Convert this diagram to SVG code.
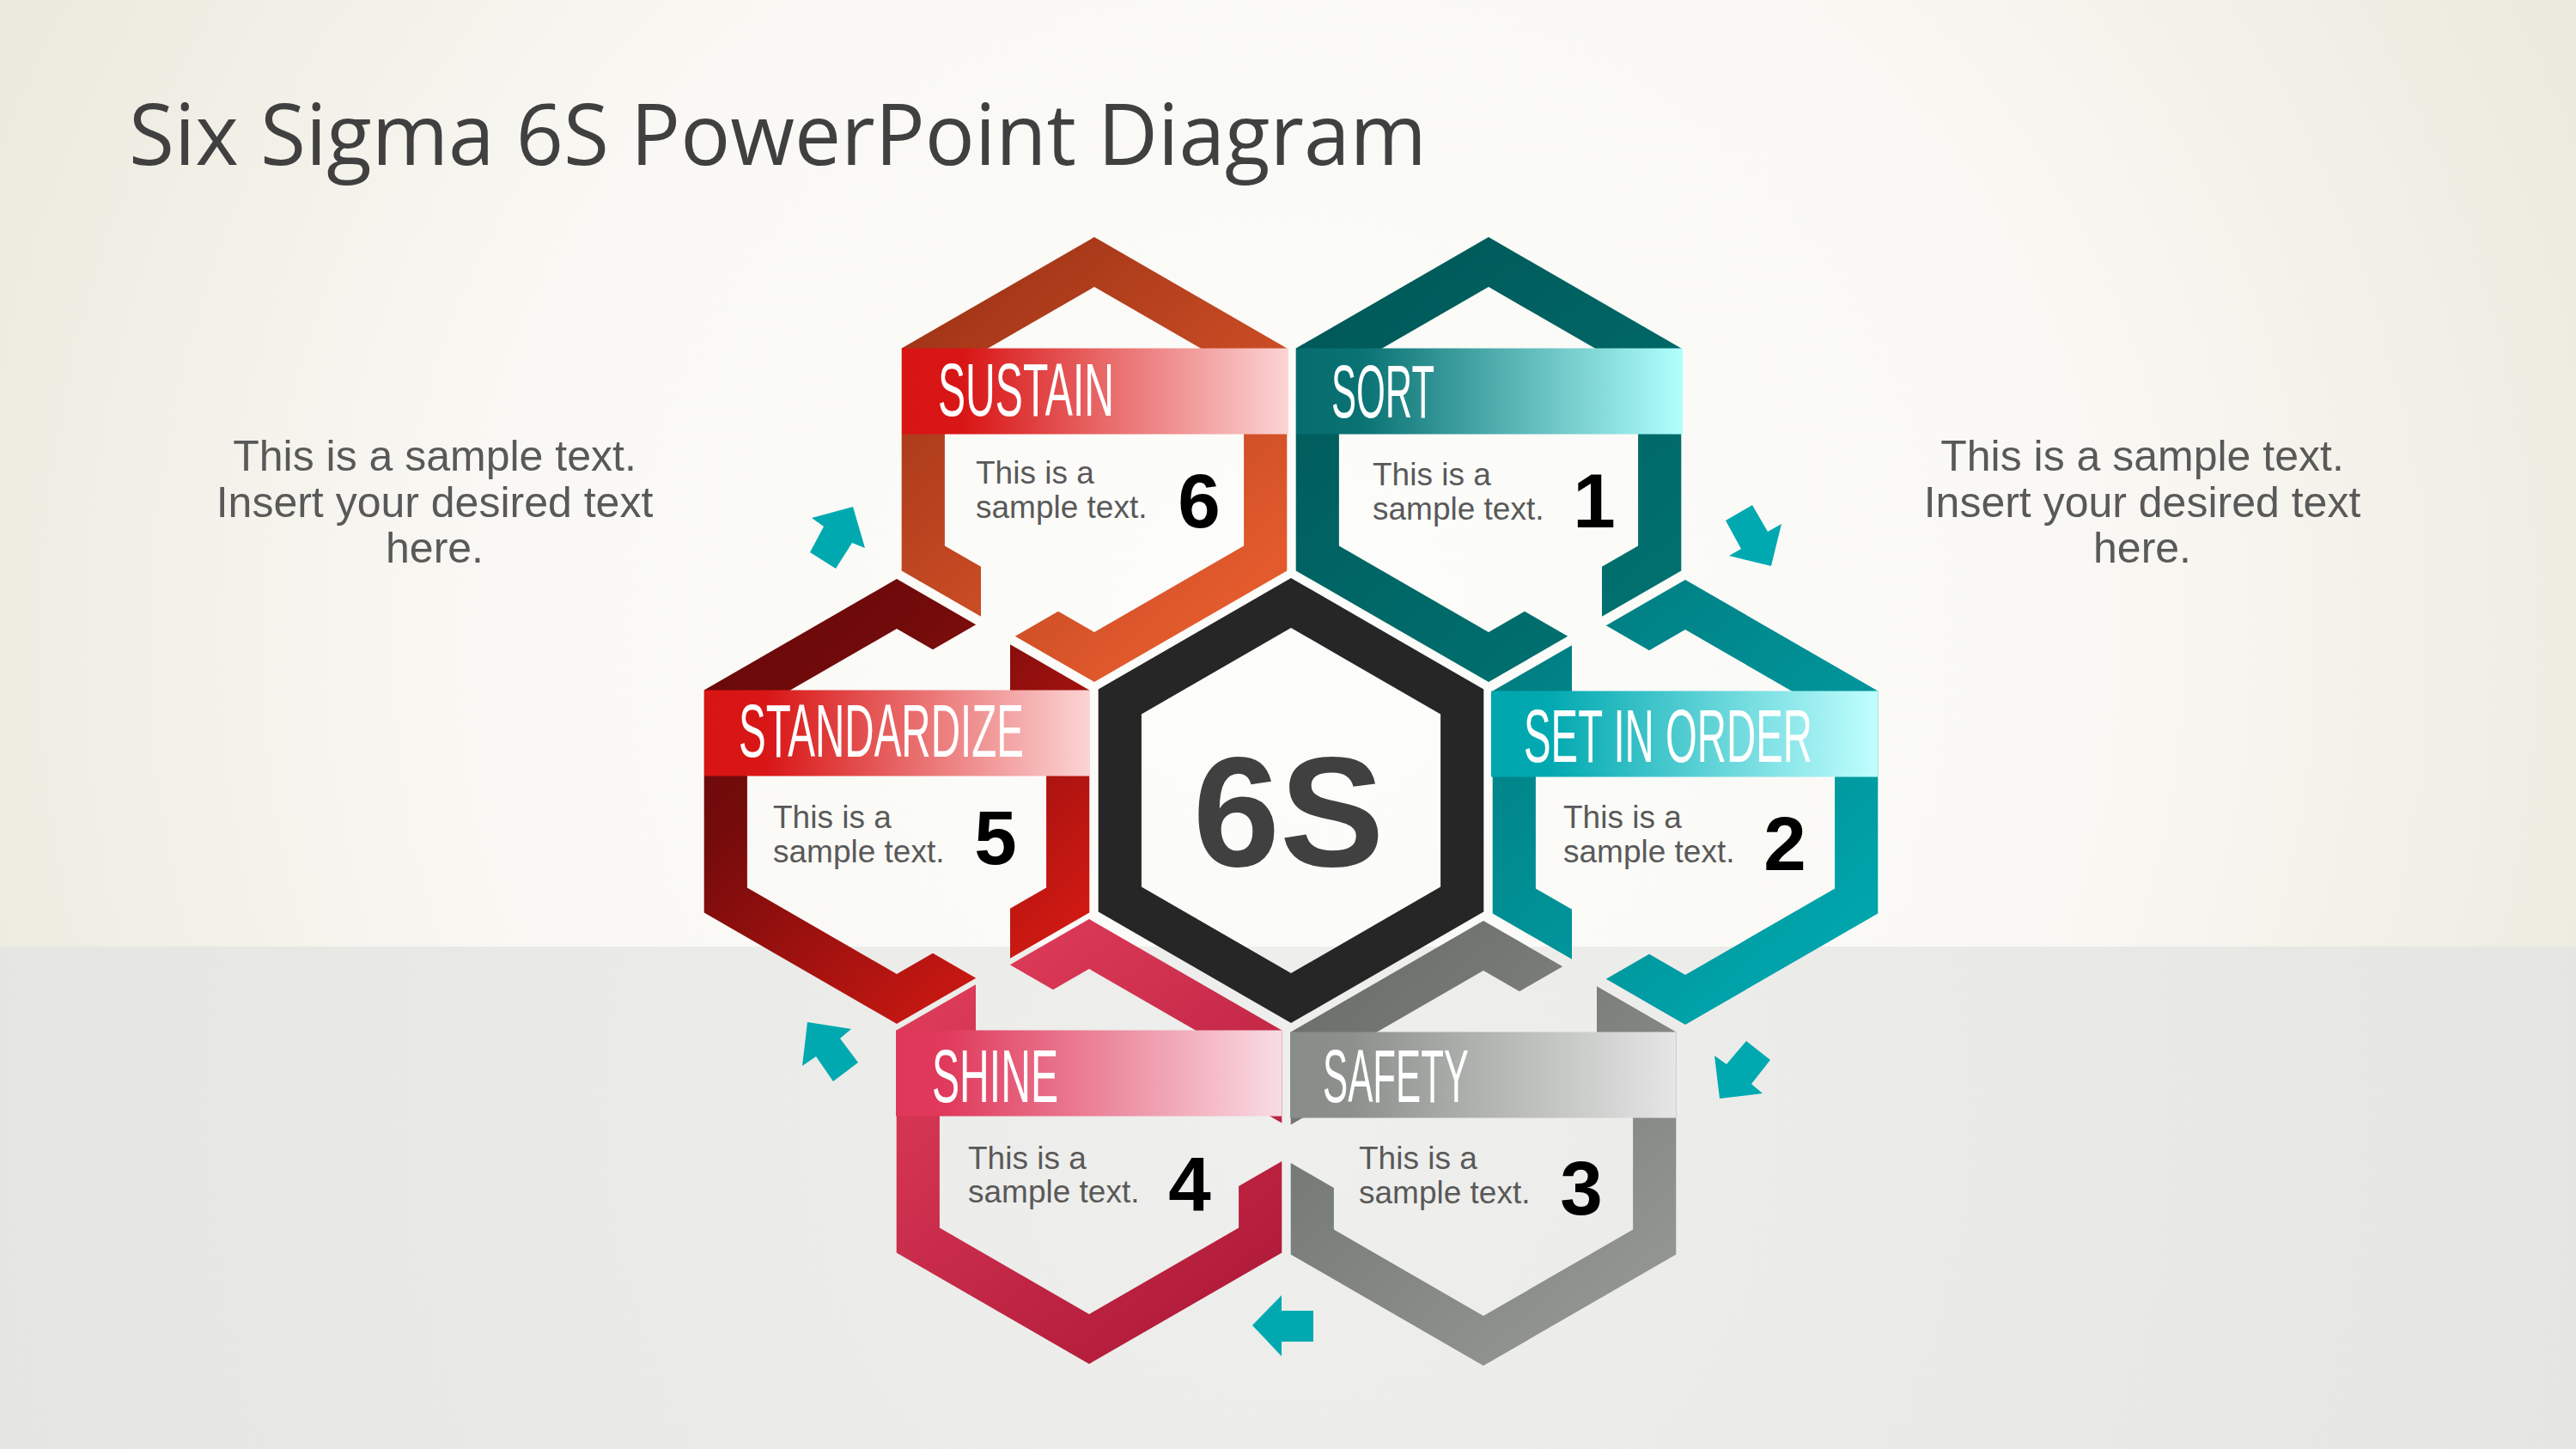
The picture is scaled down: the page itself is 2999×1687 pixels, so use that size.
<svg xmlns="http://www.w3.org/2000/svg" width="2999" height="1687" viewBox="0 0 2999 1687">
<defs>
<radialGradient id="bgTop" gradientUnits="userSpaceOnUse" cx="1500" cy="750" r="1700">
<stop offset="0" stop-color="#fdfdfb"/><stop offset="0.55" stop-color="#f9f8f4"/><stop offset="1" stop-color="#ebe9dc"/>
</radialGradient>
<radialGradient id="bgBot" gradientUnits="userSpaceOnUse" cx="1500" cy="1300" r="1700">
<stop offset="0" stop-color="#efefed"/><stop offset="1" stop-color="#e4e4e1"/>
</radialGradient>
<linearGradient id="gSustain" gradientUnits="userSpaceOnUse" x1="-224" y1="-259" x2="150" y2="170"><stop offset="0" stop-color="#952e13"/><stop offset="1" stop-color="#e35b2d"/></linearGradient>
<linearGradient id="gSort" gradientUnits="userSpaceOnUse" x1="-224" y1="-259" x2="224" y2="259"><stop offset="0" stop-color="#005555"/><stop offset="1" stop-color="#007574"/></linearGradient>
<linearGradient id="gSio" gradientUnits="userSpaceOnUse" x1="-224" y1="-259" x2="224" y2="259"><stop offset="0" stop-color="#00777a"/><stop offset="1" stop-color="#00adb5"/></linearGradient>
<linearGradient id="gStd" gradientUnits="userSpaceOnUse" x1="-224" y1="-259" x2="224" y2="200"><stop offset="0" stop-color="#650808"/><stop offset="0.35" stop-color="#740b0b"/><stop offset="1" stop-color="#de1b14"/></linearGradient>
<linearGradient id="gSafety" gradientUnits="userSpaceOnUse" x1="-224" y1="-259" x2="224" y2="259"><stop offset="0" stop-color="#656a66"/><stop offset="1" stop-color="#9a9d9a"/></linearGradient>
<linearGradient id="gShine" gradientUnits="userSpaceOnUse" x1="-224" y1="-259" x2="150" y2="200"><stop offset="0" stop-color="#e5415f"/><stop offset="1" stop-color="#b11b39"/></linearGradient>
<linearGradient id="bRed" gradientUnits="userSpaceOnUse" x1="-224" y1="0" x2="225" y2="0"><stop offset="0" stop-color="#d81414"/><stop offset="0.16" stop-color="#d91616"/><stop offset="1" stop-color="#fcd4d4"/></linearGradient>
<linearGradient id="bSort" gradientUnits="userSpaceOnUse" x1="-224" y1="0" x2="225" y2="0"><stop offset="0" stop-color="#076c6e"/><stop offset="0.17" stop-color="#0a7273"/><stop offset="1" stop-color="#b0fffd"/></linearGradient>
<linearGradient id="bSio" gradientUnits="userSpaceOnUse" x1="-224" y1="0" x2="225" y2="0"><stop offset="0" stop-color="#00a6ad"/><stop offset="0.15" stop-color="#02a9b1"/><stop offset="1" stop-color="#c2ffff"/></linearGradient>
<linearGradient id="bShine" gradientUnits="userSpaceOnUse" x1="-224" y1="0" x2="225" y2="0"><stop offset="0" stop-color="#df375a"/><stop offset="0.12" stop-color="#e0395b"/><stop offset="1" stop-color="#f9dde4"/></linearGradient>
<linearGradient id="bSafety" gradientUnits="userSpaceOnUse" x1="-224" y1="0" x2="225" y2="0"><stop offset="0" stop-color="#898d89"/><stop offset="0.15" stop-color="#8c908c"/><stop offset="1" stop-color="#e5e6e5"/></linearGradient>
<style>
.title{font-family:"Open Sans","Liberation Sans",sans-serif;font-size:98px;fill:#404040}
.side{font-family:"Liberation Sans",Arial,sans-serif;font-size:50px;fill:#595959;text-anchor:middle}
.head{font-family:"Liberation Sans Narrow","Liberation Sans",Arial,sans-serif;font-size:88px;fill:#ffffff}
.body{font-family:"Liberation Sans",Arial,sans-serif;font-size:37px;fill:#595959}
.num{font-family:"Liberation Sans",Arial,sans-serif;font-size:89px;font-weight:bold;fill:#000000;text-anchor:middle}
.big{font-family:"Liberation Sans",Arial,sans-serif;font-size:182px;font-weight:bold;fill:#404040;text-anchor:middle}
.arrow{fill:#00a9b0}
</style>
</defs>

<rect x="0" y="0" width="2999" height="1102" fill="url(#bgTop)"/>
<rect x="0" y="1102" width="2999" height="585" fill="url(#bgBot)"/>

<text class="title" x="150" y="192" textLength="1511" lengthAdjust="spacingAndGlyphs">Six Sigma 6S PowerPoint Diagram</text>

<g id="side-left">
<text class="side" x="506" y="548">This is a sample text.</text>
<text class="side" x="506" y="602">Insert your desired text</text>
<text class="side" x="506" y="655">here.</text>
</g>
<g id="side-right">
<text class="side" x="2494" y="548">This is a sample text.</text>
<text class="side" x="2494" y="602">Insert your desired text</text>
<text class="side" x="2494" y="655">here.</text>
</g>

<g id="node-center" transform="translate(1503,932)">
<path fill="#262626" fill-rule="evenodd" d="M0,-259 L224.3,-129.5 L224.3,129.5 L0,259 L-224.3,129.5 L-224.3,-129.5 Z M0,-201 L174.1,-100.5 L174.1,100.5 L0,201 L-174.1,100.5 L-174.1,-100.5 Z"/>
<text class="big" x="-3" y="76">6S</text>
</g>

<g id="node-sort" transform="translate(1733,535)">
<polygon fill="url(#gSort)" points="132,182.8 224.3,129.5 224.3,-129.5 0,-259 -224.3,-129.5 -224.3,129.5 0,259 92.2,205.8 42,176.8 0,201 -174.1,100.5 -174.1,-100.5 0,-201 174.1,-100.5 174.1,100.5 132,124.8"/>
<rect x="-224" y="-129.5" width="450" height="100" fill="url(#bSort)"/>
<text class="head" x="-183" y="-49" textLength="120" lengthAdjust="spacingAndGlyphs">SORT</text>
<text class="body" x="-135" y="30">This is a</text>
<text class="body" x="-135" y="70">sample text.</text>
<text class="num" x="123" y="79">1</text>
</g>

<g id="node-set-in-order" transform="translate(1962,934)">
<polygon fill="url(#gSio)" points="-132,-182.8 -224.3,-129.5 -224.3,129.5 -132,182.8 -132,124.8 -174.1,100.5 -174.1,-100.5 -132,-124.8"/>
<polygon fill="url(#gSio)" points="-92.2,-205.8 0,-259 224.3,-129.5 224.3,129.5 0,259 -92.2,205.8 -42,176.8 0,201 174.1,100.5 174.1,-100.5 0,-201 -42,-176.8"/>
<rect x="-226" y="-129.5" width="450" height="100" fill="url(#bSio)"/>
<text class="head" x="-188" y="-47" textLength="336" lengthAdjust="spacingAndGlyphs">SET IN ORDER</text>
<text class="body" x="-142" y="30">This is a</text>
<text class="body" x="-142" y="70">sample text.</text>
<text class="num" x="116" y="79">2</text>
</g>

<g id="node-safety" transform="translate(1727,1331)">
<polygon fill="url(#gSafety)" points="92.2,-205.8 0,-259 -224.3,-129.5 -224.3,-21.5 -174.1,-50.5 -174.1,-100.5 0,-201 42,-176.8"/>
<polygon fill="url(#gSafety)" points="132,-182.8 224.3,-129.5 224.3,129.5 0,259 -224.3,129.5 -224.3,23 -174.1,52 -174.1,100.5 0,201 174.1,100.5 174.1,-100.5 132,-124.8"/>
<rect x="-225" y="-129.5" width="449" height="100" fill="url(#bSafety)"/>
<text class="head" x="-187" y="-48" textLength="170" lengthAdjust="spacingAndGlyphs">SAFETY</text>
<text class="body" x="-145" y="30">This is a</text>
<text class="body" x="-145" y="70">sample text.</text>
<text class="num" x="114" y="83">3</text>
</g>

<g id="node-shine" transform="translate(1268,1329)">
<polygon fill="url(#gShine)" points="-92.2,-205.8 0,-259 224.3,-129.5 224.3,-21.5 174.1,-50.5 174.1,-100.5 0,-201 -42,-176.8"/>
<polygon fill="url(#gShine)" points="-132,-182.8 -224.3,-129.5 -224.3,129.5 0,259 224.3,129.5 224.3,23 174.1,52 174.1,100.5 0,201 -174.1,100.5 -174.1,-100.5 -132,-124.8"/>
<rect x="-225" y="-129.5" width="449" height="100" fill="url(#bShine)"/>
<text class="head" x="-183" y="-46" textLength="147" lengthAdjust="spacingAndGlyphs">SHINE</text>
<text class="body" x="-141" y="32">This is a</text>
<text class="body" x="-141" y="71">sample text.</text>
<text class="num" x="117" y="81">4</text>
</g>

<g id="node-standardize" transform="translate(1044,933)">
<polygon fill="url(#gStd)" points="132,-182.8 224.3,-129.5 224.3,129.5 132,182.8 132,124.8 174.1,100.5 174.1,-100.5 132,-124.8"/>
<polygon fill="url(#gStd)" points="92.2,-205.8 0,-259 -224.3,-129.5 -224.3,129.5 0,259 92.2,205.8 42,176.8 0,201 -174.1,100.5 -174.1,-100.5 0,-201 42,-176.8"/>
<rect x="-224" y="-129.5" width="449" height="100" fill="url(#bRed)"/>
<text class="head" x="-184" y="-52" textLength="332" lengthAdjust="spacingAndGlyphs">STANDARDIZE</text>
<text class="body" x="-144" y="31">This is a</text>
<text class="body" x="-144" y="71">sample text.</text>
<text class="num" x="115" y="73">5</text>
</g>

<g id="node-sustain" transform="translate(1274,535)">
<polygon fill="url(#gSustain)" points="-132,182.8 -224.3,129.5 -224.3,-129.5 0,-259 224.3,-129.5 224.3,129.5 0,259 -92.2,205.8 -42,176.8 0,201 174.1,100.5 174.1,-100.5 0,-201 -174.1,-100.5 -174.1,100.5 -132,124.8"/>
<rect x="-224" y="-129.5" width="450" height="100" fill="url(#bRed)"/>
<text class="head" x="-182" y="-51" textLength="205" lengthAdjust="spacingAndGlyphs">SUSTAIN</text>
<text class="body" x="-138" y="28">This is a</text>
<text class="body" x="-138" y="68">sample text.</text>
<text class="num" x="122" y="79">6</text>
</g>

<g id="connectors">
<polygon class="arrow" points="2009,606 2040,588 2058,619 2074,610 2062,659 2013,647 2027,639"/>
<polygon class="arrow" points="2033,1212 2061,1234 2039,1262 2052,1273 2002,1279 1996,1229 2010,1239"/>
<polygon class="arrow" points="1458,1543 1492,1508 1492,1526 1529,1526 1529,1562 1492,1562 1492,1579"/>
<polygon class="arrow" points="940,1190 991,1198 978,1209 999,1237 970,1259 950,1230 934,1241"/>
<polygon class="arrow" points="945,603 993,590 1007,638 992,632 973,662 943,643 959,613"/>
</g>
</svg>
